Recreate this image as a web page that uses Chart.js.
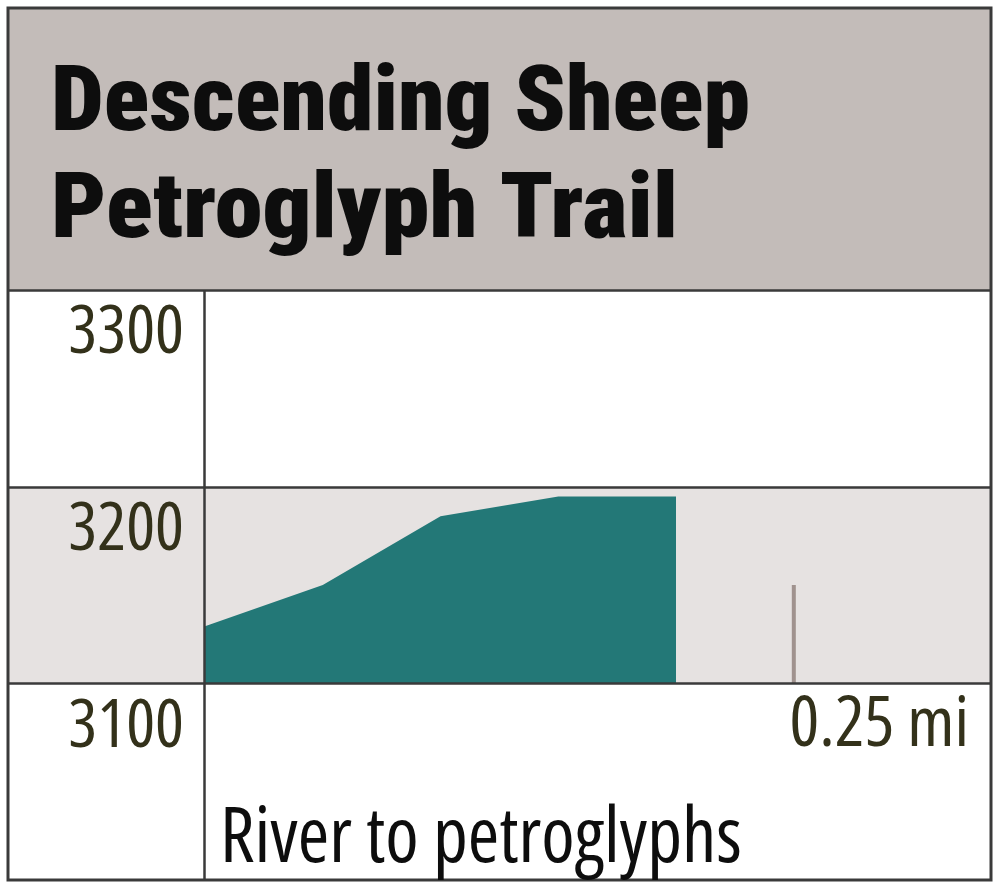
<!DOCTYPE html>
<html>
<head>
<meta charset="utf-8">
<script src="https://cdn.jsdelivr.net/npm/chart.js@4"></script>
<style>
  html, body { margin: 0; padding: 0; background: #ffffff; }
  #wrap { width: 1000px; height: 894px; }
</style>
</head>
<body>
<div id="wrap"><canvas id="c" width="1000" height="894"></canvas></div>
<script>
// ---- data ----
const titleLines = ['Descending Sheep', 'Petroglyph Trail'];
const distanceMi = [0, 0.05, 0.10, 0.15, 0.20];
const elevationFt = [3129, 3150, 3185, 3195, 3195];
const yTickValues = [3100, 3200, 3300];
const markerMi = [0.25, 0.25];
const markerFt = [3100, 3150];
const markerLabel = '0.25 mi';
const segmentLabel = 'River to petroglyphs';
const yMin = 3000, yMax = 3300;
const xMin = 0, xMax = 0.3333;

const COL = {
  titleBg: '#c3bcb9',
  band: '#e6e2e1',
  fill: '#237877',
  border: '#3a3a3a',
  tick: '#a0928e',
  label: '#33311a',
  text: '#0d0d0d'
};

const LABEL_FAMILY = '"Open Sans", "Roboto", sans-serif';
const TITLE_FONT = '900 condensed 91px "Roboto", "Open Sans", sans-serif';

const areaData = distanceMi.map((d, i) => ({ x: d, y: elevationFt[i] }));
const markerData = markerMi.map((d, i) => ({ x: d, y: markerFt[i] }));

function fitText(ctx, text, x, y, targetWidth) {
  const w = ctx.measureText(text).width;
  const sx = targetWidth ? targetWidth / w : 1;
  ctx.save();
  ctx.translate(x, y);
  ctx.scale(sx, 1);
  ctx.fillText(text, 0, 0);
  ctx.restore();
}

const decor = {
  id: 'decor',
  beforeDraw(chart) {
    const ctx = chart.ctx;
    const y = chart.scales.y;
    ctx.save();
    ctx.fillStyle = '#ffffff';
    ctx.fillRect(0, 0, chart.width, chart.height);
    // title box
    ctx.fillStyle = COL.titleBg;
    ctx.fillRect(8, 8, 983, y.getPixelForValue(3300) - 8);
    // grey band between 3100 and 3200
    const b1 = y.getPixelForValue(3200), b2 = y.getPixelForValue(3100);
    ctx.fillStyle = COL.band;
    ctx.fillRect(8, b1, 983, b2 - b1);
    // title text
    ctx.fillStyle = COL.text;
    ctx.font = TITLE_FONT;
    ctx.textBaseline = 'alphabetic';
    ctx.textAlign = 'left';
    fitText(ctx, titleLines[0], 51, 130, 699);
    fitText(ctx, titleLines[1], 51, 237, 627);
    ctx.restore();
  },
  afterDraw(chart) {
    const ctx = chart.ctx;
    const y = chart.scales.y, x = chart.scales.x;
    const area = chart.chartArea;
    ctx.save();
    ctx.strokeStyle = COL.border;
    ctx.lineWidth = 2.5;
    // horizontal rules
    [3300, 3200, 3100].forEach(v => {
      const py = Math.round(y.getPixelForValue(v)) + 0.5;
      ctx.beginPath();
      ctx.moveTo(8, py);
      ctx.lineTo(991, py);
      ctx.stroke();
    });
    // vertical separator
    ctx.beginPath();
    ctx.moveTo(area.left - 0.5, y.getPixelForValue(3300));
    ctx.lineTo(area.left - 0.5, 880);
    ctx.stroke();
    // outer border
    ctx.lineWidth = 3;
    ctx.strokeRect(8, 8, 983, 872);
    // marker label
    ctx.fillStyle = COL.label;
    ctx.font = '400 condensed 70px ' + LABEL_FAMILY;
    ctx.textAlign = 'right';
    ctx.textBaseline = 'alphabetic';
    ctx.fillText(markerLabel, 969, 746);
    // segment label
    ctx.fillStyle = COL.text;
    ctx.font = '400 condensed 76px ' + LABEL_FAMILY;
    ctx.textAlign = 'left';
    ctx.fillText(segmentLabel, 220, 862);
    ctx.restore();
  }
};

new Chart(document.getElementById('c'), {
  type: 'line',
  data: {
    datasets: [
      {
        label: 'Elevation',
        data: areaData,
        borderWidth: 0,
        borderColor: COL.fill,
        backgroundColor: COL.fill,
        pointRadius: 0,
        tension: 0,
        fill: { value: 3100 },
        order: 2
      },
      {
        label: 'Marker',
        data: markerData,
        borderColor: COL.tick,
        borderWidth: 4,
        pointRadius: 0,
        fill: false,
        borderCapStyle: 'butt',
        order: 1
      }
    ]
  },
  options: {
    responsive: false,
    animation: false,
    devicePixelRatio: 1,
    layout: { padding: { top: 290, left: 0, right: 10, bottom: 14 } },
    plugins: { legend: { display: false }, tooltip: { enabled: false }, title: { display: false } },
    scales: {
      x: { type: 'linear', min: xMin, max: xMax, display: false },
      y: {
        type: 'linear',
        position: 'left',
        min: yMin,
        max: yMax,
        afterBuildTicks(scale) { scale.ticks = yTickValues.map(v => ({ value: v })); },
        afterFit(scale) { scale.width = 205; scale.paddingTop = 0; scale.paddingBottom = 0; },
        grid: { display: false, drawTicks: false },
        border: { display: false },
        ticks: {
          padding: 21,
          labelOffset: 44,
          color: COL.label,
          font: { family: LABEL_FAMILY, size: 68, weight: '400 condensed' },
          callback: v => String(v)
        }
      }
    }
  },
  plugins: [decor]
});
</script>
</body>
</html>
